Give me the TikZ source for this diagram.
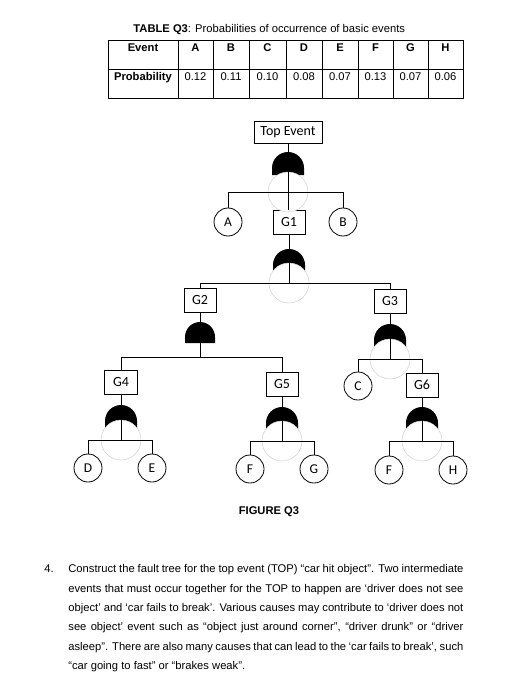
\documentclass[tikz,border=0pt]{standalone}
\usepackage{fontspec}
\setmainfont{Liberation Sans}
\newfontfamily\calib{Carlito}
\begin{document}
\begin{tikzpicture}[x=1pt,y=-1pt,
  line width=0.8pt,
  evbox/.style={draw,rectangle,inner sep=0pt,minimum width=32pt,minimum height=24pt,font=\calib\fontsize{14}{16}\selectfont},
  basic/.style={draw,circle,inner sep=0pt,minimum size=28pt,font=\calib\fontsize{13.5}{15}\selectfont},
  tcell/.style={inner sep=0pt,anchor=base,font=\fontsize{11.2}{13}\selectfont},
  conn/.style={draw=black,line width=0.8pt}]
\useasboundingbox[fill=white] (0,0) rectangle (506,685);
\newcommand\crgate[3]{%
  \fill[black] (#1-16,#2+23) -- (#1-16,#2+16) arc[start angle=180,end angle=0,radius=16pt] -- (#1+16,#2+23) -- cycle;
  \filldraw[fill=white,draw=black!18,line width=0.5pt] (#1,#3) circle[radius=20pt];}
% ---- table ----
\node[anchor=base west,inner sep=0pt,font=\fontsize{11.2}{13}\selectfont] (title) at (133,33) {\textbf{TABLE Q3}: Probabilities of occurrence of basic events};
\draw[line width=0.7pt] (108,40) rectangle (463,98);
\draw[line width=0.7pt] (108,69) -- (463,69);
\foreach \xx in {178,213,249,286,322,358,393,428} \draw[line width=0.7pt] (\xx,40) -- (\xx,98);
\node[tcell] (hev) at (143,52) {\textbf{Event}};
\node[tcell] (hpr) at (143,81) {\textbf{Probability}};
\foreach \cx/\lab/\pv [count=\i] in {195.5/A/0.12,231/B/0.11,267.5/C/0.10,304/D/0.08,340/E/0.07,375.5/F/0.13,410.5/G/0.07,445.5/H/0.06}{
  \node[tcell] (h\i) at (\cx,52) {\textbf{\lab}};
  \node[tcell] (p\i) at (\cx,81) {\pv};
}
% ---- tree nodes ----
\node[evbox,minimum width=68pt,minimum height=22pt] (top) at (288,132) {Top Event};
\node[basic] (A) at (228,222) {A};
\node[evbox] (G1) at (289,222) {G1};
\node[basic] (B) at (343,222) {B};
\node[evbox] (G2) at (200,300) {G2};
\node[evbox] (G3) at (390,301) {G3};
\node[basic] (C) at (358,386) {C};
\node[evbox,minimum width=33pt] (G4) at (121,382) {G4};
\node[evbox] (G5) at (282,384) {G5};
\node[evbox] (G6) at (422,385) {G6};
\node[basic] (D) at (88,468) {D};
\node[basic] (E) at (152,468) {E};
\node[basic] (F1) at (250,469) {F};
\node[basic] (Gg) at (314,469) {G};
\node[basic] (F2) at (389,470) {F};
\node[basic] (H) at (453,470) {H};
% ---- gates ----
\crgate{288}{152}{192}
\crgate{289}{249}{283}
\fill[black] (185,343) -- (185,337) arc[start angle=180,end angle=0,radius=15pt] -- (215,343) -- cycle;
\crgate{390}{324}{359}
\crgate{121}{405}{440}
\crgate{282}{407}{441}
\crgate{422}{407}{441}
\coordinate (b1) at (288,192);
\coordinate (b2) at (289,283);
\coordinate (b3) at (200,357);
\coordinate (b4) at (390,359);
\coordinate (b5) at (121,440);
\coordinate (b6) at (282,441);
\coordinate (b7) at (422,441);
% ---- connectors ----
\draw[conn] (top.south) -- (top.south |- G1.north);
\draw[conn] (A.north) -- (A.north |- b1) -- (B.north |- b1) -- (B.north);
\draw[conn] (G1.south) -- (G1.south |- b2);
\draw[conn] (G2.north) -- (G2.north |- b2) -- (G3.north |- b2) -- (G3.north);
\draw[conn] (G2.south) -- (G2.south |- b3);
\draw[conn] (G4.north) -- (G4.north |- b3) -- (G5.north |- b3) -- (G5.north);
\draw[conn] (G3.south) -- (G3.south |- b4);
\draw[conn] (C.north) -- (C.north |- b4) -- (G6.north |- b4) -- (G6.north);
\draw[conn] (G4.south) -- (G4.south |- b5);
\draw[conn] (D.north) -- (D.north |- b5) -- (E.north |- b5) -- (E.north);
\draw[conn] (G5.south) -- (G5.south |- b6);
\draw[conn] (F1.north) -- (F1.north |- b6) -- (Gg.north |- b6) -- (Gg.north);
\draw[conn] (G6.south) -- (G6.south |- b7);
\draw[conn] (F2.north) -- (F2.north |- b7) -- (H.north |- b7) -- (H.north);
% ---- captions ----
\node[anchor=base,inner sep=0pt,font=\fontsize{11.2}{13}\selectfont\bfseries] (fig) at (269,514) {FIGURE Q3};
\node[anchor=base west,inner sep=0pt,font=\fontsize{11.2}{13}\selectfont] (num) at (44,572.7) {4.};
\node[anchor=base west,inner sep=0pt] (body) at (68,572.7) {\parbox[t]{395pt}{\fontsize{11.2}{19.4}\selectfont
Construct the fault tree for the top event (TOP) “car hit object”. Two intermediate\linebreak
events that must occur together for the TOP to happen are ‘driver does not see\linebreak
object’ and ‘car fails to break’. Various causes may contribute to ‘driver does not\linebreak
see object’ event such as “object just around corner”, “driver drunk” or “driver\linebreak
asleep”. There are also many causes that can lead to the ‘car fails to break’, such\linebreak
“car going to fast” or “brakes weak”.}};
\end{tikzpicture}
\end{document}
